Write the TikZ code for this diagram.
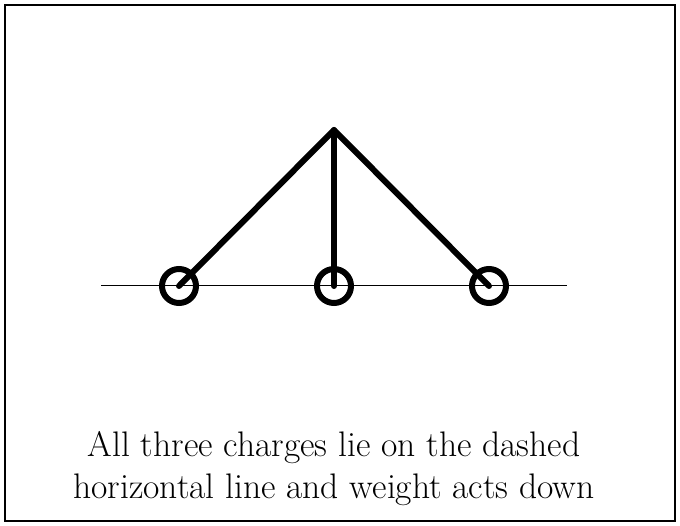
\documentclass[tikz,border=0pt]{standalone}
\usepackage{fontspec}
\begin{document}
\begin{tikzpicture}[x=1pt,y=-1pt,
  charge/.style={circle,draw,line width=6pt,minimum size=34pt,inner sep=0pt},
  thread/.style={line width=6pt}]
\useasboundingbox (0,0) rectangle (680,526);
\draw[line width=2pt] (5,5) rectangle (675,521);
\coordinate (L) at (101,286);
\coordinate (R) at (567,286);
\draw[line width=1pt] (L) -- (R);
\node[charge] (c1) at (179,286) {};
\node[charge] (c2) at (334,286) {};
\node[charge] (c3) at (489,286) {};
\coordinate (apex) at (334,130);
\draw[thread,line cap=round,line join=round] (c1.center) -- (apex) -- (c3.center);
\draw[thread,line cap=round] (apex) -- (c2.center);
\node[align=center,font=\fontsize{35.5}{42}\selectfont] (cap) at (334,469) {All three charges lie on the dashed\\horizontal line and weight acts down};
\end{tikzpicture}
\end{document}
